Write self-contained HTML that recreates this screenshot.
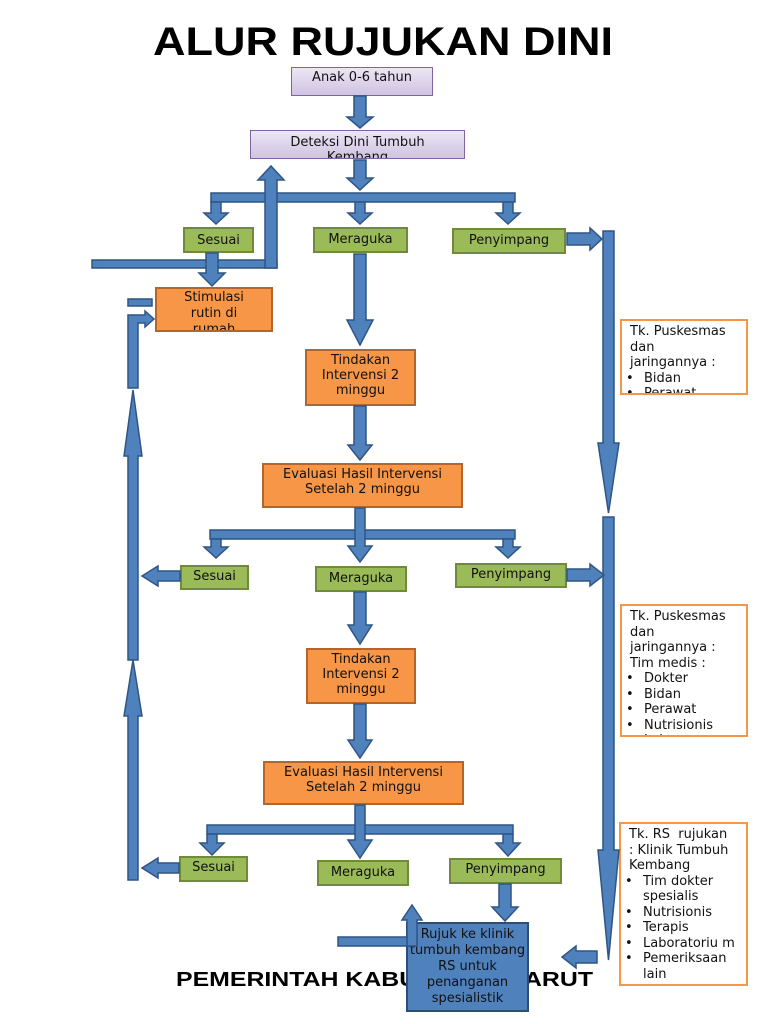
<!DOCTYPE html>
<html><head><meta charset="utf-8"><style>
html,body{margin:0;padding:0;background:#fff;}
#c{position:relative;width:768px;height:1024px;overflow:hidden;font-family:"DejaVu Sans","Liberation Sans",sans-serif;}
.b{position:absolute;box-sizing:border-box;overflow:hidden;text-align:center;font-size:13px;line-height:15px;color:#111;z-index:1;}
.lav{background:linear-gradient(#ece6f5,#cfc3e2);border:1px solid #8064a2;}
.g{background:#9bbb59;border:2px solid #6f8a3a;}
.o{background:#f79646;border:2px solid #b5642a;}
.bl{background:#4f81bd;border:2px solid #2c4d75;}
.r{position:absolute;box-sizing:border-box;overflow:hidden;background:#fff;border:2px solid #f79646;font-size:13px;line-height:15.5px;color:#111;padding:3px 0 0 8px;z-index:1;}
.r ul{margin:0;padding:0 0 0 0;list-style:none;}
.r li{position:relative;padding-left:18px;margin-left:-4px;}
.r li:before{content:"\2022";position:absolute;left:0;top:0;}
svg{position:absolute;left:0;top:0;z-index:2;}
#t{position:absolute;left:0;top:0;z-index:0;}
</style></head><body><div id="c">
<svg id="t" width="768" height="1024">
<text x="383" y="55" text-anchor="middle" font-family="Liberation Sans,sans-serif" font-weight="bold" font-size="40" textLength="460" lengthAdjust="spacingAndGlyphs">ALUR RUJUKAN DINI</text>
<text x="176" y="986" font-family="Liberation Sans,sans-serif" font-weight="bold" font-size="20" textLength="417" lengthAdjust="spacingAndGlyphs">PEMERINTAH KABUPATEN GARUT</text>
</svg>
<div class="b lav" style="left:291px;top:67px;width:142px;height:29px;padding-top:2px;">Anak 0-6 tahun</div>
<div class="b lav" style="left:250px;top:130px;width:215px;height:29px;padding-top:4px;">Deteksi Dini Tumbuh<br>Kembang</div>
<div class="b g" style="left:183px;top:227px;width:71px;height:26px;padding-top:4px;">Sesuai</div>
<div class="b g" style="left:313px;top:227px;width:95px;height:26px;padding-top:3px;">Meraguka</div>
<div class="b g" style="left:452px;top:228px;width:114px;height:26px;padding-top:3px;">Penyimpang</div>
<div class="b o" style="left:155px;top:287px;width:118px;height:45px;padding-top:1px;line-height:16px;">Stimulasi<br>rutin di<br>rumah</div>
<div class="b o" style="left:305px;top:349px;width:111px;height:57px;padding-top:2px;">Tindakan<br>Intervensi 2<br>minggu</div>
<div class="b o" style="left:262px;top:463px;width:201px;height:45px;padding-top:2px;">Evaluasi Hasil Intervensi<br>Setelah 2 minggu</div>
<div class="b g" style="left:180px;top:565px;width:69px;height:25px;padding-top:2px;">Sesuai</div>
<div class="b g" style="left:315px;top:566px;width:92px;height:26px;padding-top:3px;">Meraguka</div>
<div class="b g" style="left:455px;top:563px;width:112px;height:25px;padding-top:2px;">Penyimpang</div>
<div class="b o" style="left:306px;top:648px;width:110px;height:56px;padding-top:2px;">Tindakan<br>Intervensi 2<br>minggu</div>
<div class="b o" style="left:263px;top:761px;width:201px;height:44px;padding-top:2px;">Evaluasi Hasil Intervensi<br>Setelah 2 minggu</div>
<div class="b g" style="left:179px;top:856px;width:69px;height:26px;padding-top:2px;">Sesuai</div>
<div class="b g" style="left:317px;top:860px;width:92px;height:26px;padding-top:3px;">Meraguka</div>
<div class="b g" style="left:449px;top:858px;width:113px;height:26px;padding-top:2px;">Penyimpang</div>
<div class="b bl" style="left:406px;top:922px;width:123px;height:90px;padding-top:3px;line-height:16px;">Rujuk ke klinik<br>tumbuh kembang<br>RS untuk<br>penanganan<br>spesialistik</div>
<div class="r" style="left:620px;top:319px;width:128px;height:76px;">Tk. Puskesmas<br>dan<br>jaringannya :<ul><li>Bidan</li><li>Perawat</li></ul></div>
<div class="r" style="left:620px;top:604px;width:128px;height:133px;">Tk. Puskesmas<br>dan<br>jaringannya :<br>Tim medis :<ul><li>Dokter</li><li>Bidan</li><li>Perawat</li><li>Nutrisionis</li><li>Lainnya</li></ul></div>
<div class="r" style="left:619px;top:822px;width:129px;height:164px;padding-left:8px;">Tk. RS&nbsp; rujukan<br>: Klinik Tumbuh<br>Kembang<ul><li>Tim dokter spesialis</li><li>Nutrisionis</li><li>Terapis</li><li>Laboratoriu m</li><li>Pemeriksaan lain</li></ul></div>
<svg width="768" height="1024"><g fill="#4f81bd" stroke="#2f5584" stroke-width="1.5">
<polygon points="354,96 366,96 366,117 373,117 360,128 347,117 354,117"/>
<polygon points="354,160 366,160 366,178 373,178 360,190 347,178 354,178"/>
<rect x="211" y="193" width="304" height="9"/>
<polygon points="211,202 221,202 221,213 228,213 216,224 204,213 211,213"/>
<polygon points="355,202 365,202 365,213 372,213 360,224 348,213 355,213"/>
<polygon points="503,202 513,202 513,213 520,213 508,224 496,213 503,213"/>
<rect x="92" y="260" width="185" height="8"/>
<polygon points="265,268 277,268 277,180 284,180 271,166 258,180 265,180"/>
<polygon points="206,253 218,253 218,273 225,273 212,286 199,273 206,273"/>
<polygon points="567,233 590,233 590,228 602,239 590,250 590,245 567,245"/>
<polygon points="603,231 614,231 614,443 619,443 608.5,513 598,443 603,443"/>
<polygon points="603,517 614,517 614,850 619,850 608.5,960 598,850 603,850"/>
<polygon points="354,254 366,254 366,320 373,320 360,345 347,320 354,320"/>
<polygon points="354,406 366,406 366,445 372,445 360,460 348,445 354,445"/>
<rect x="210" y="530" width="305" height="9"/>
<polygon points="355,508 365,508 365,546 372,546 360,562 348,546 355,546"/>
<polygon points="211,539 221,539 221,547 228,547 216,558 204,547 211,547"/>
<polygon points="503,539 513,539 513,547 520,547 508,558 496,547 503,547"/>
<polygon points="180,571 158,571 158,566 142,576 158,586 158,581 180,581"/>
<polygon points="567,569 590,569 590,564 604,575 590,586 590,581 567,581"/>
<polygon points="354,592 366,592 366,625 372,625 360,644 348,625 354,625"/>
<polygon points="354,704 366,704 366,740 372,740 360,758 348,740 354,740"/>
<rect x="207" y="825" width="306" height="9"/>
<polygon points="355,805 365,805 365,840 372,840 360,858 348,840 355,840"/>
<polygon points="207,834 217,834 217,843 224,843 212,855 200,843 207,843"/>
<polygon points="503,834 513,834 513,843 520,843 508,856 496,843 503,843"/>
<polygon points="179,863 158,863 158,858 142,868 158,878 158,873 179,873"/>
<polygon points="499,884 511,884 511,907 518,907 505,921 492,907 499,907"/>
<rect x="338" y="937" width="79" height="9"/>
<polygon points="407,946 417,946 417,920 422,920 412,905 402,920 407,920"/>
<polygon points="597,951 576,951 576,946 562,957 576,968 576,963 597,963"/>
<rect x="128" y="299" width="24" height="7"/>
<polygon points="128,315 145,315 145,311 154,319 145,327 145,323 138,323 138,388 128,388"/>
<polygon points="128,880 138,880 138,716 142,716 133,660 124,716 128,716"/>
<polygon points="128,660 138,660 138,456 142,456 133,390 124,456 128,456"/>
</g></svg>
</div></body></html>
